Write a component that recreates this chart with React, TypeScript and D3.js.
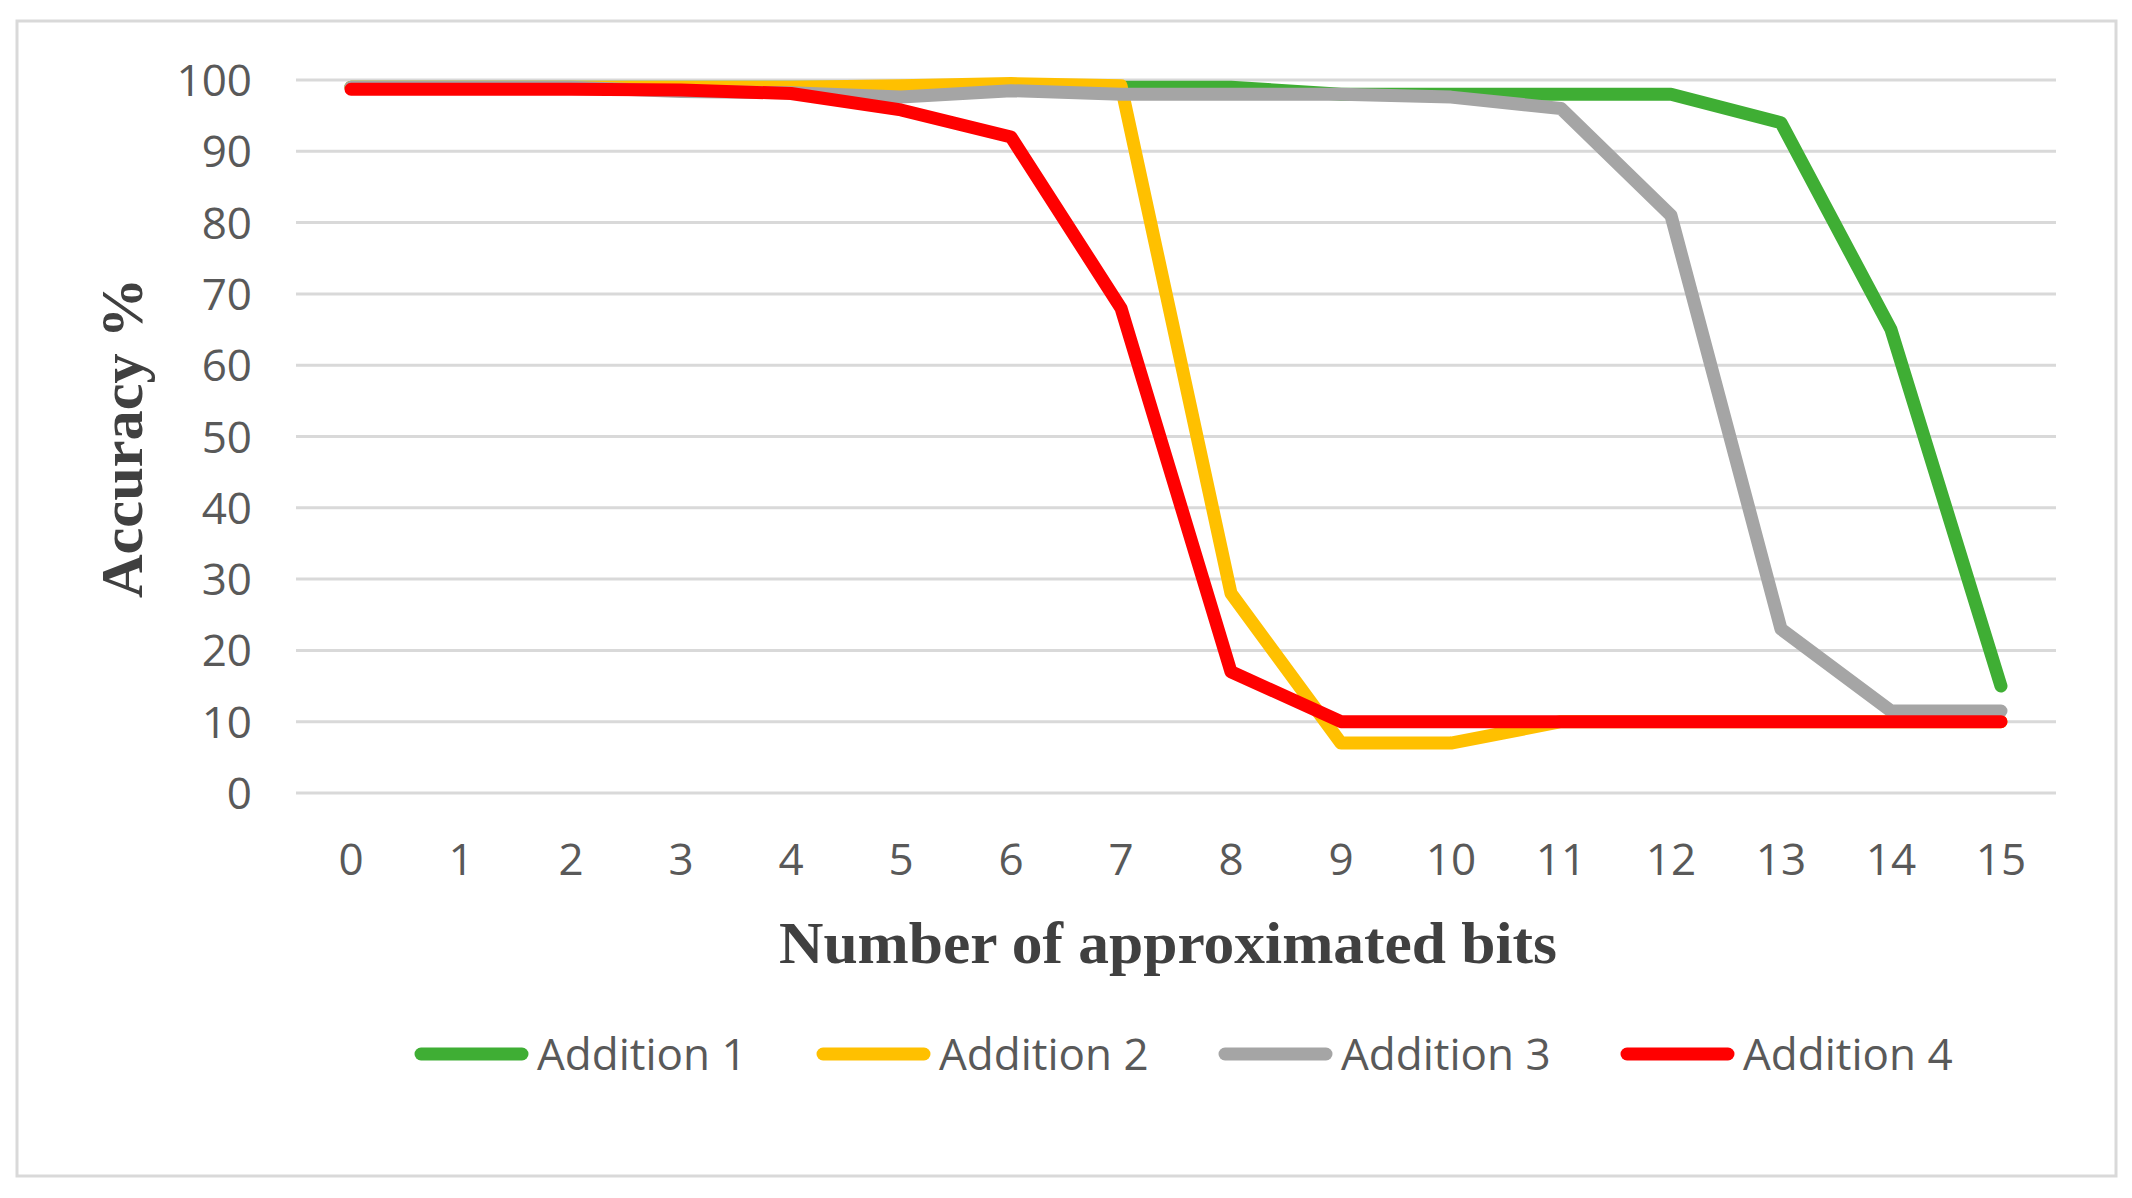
import React from "react";
import * as d3 from "d3";

// approximated bits on the x axis
const bits = [0, 1, 2, 3, 4, 5, 6, 7, 8, 9, 10, 11, 12, 13, 14, 15];

const seriesNames = ["Addition 1", "Addition 2", "Addition 3", "Addition 4"];
const seriesColors = ["#3fae34", "#ffc000", "#a5a5a5", "#ff0000"];

// accuracy %
const addition1 = [99, 99, 99, 99, 99, 99, 99, 99, 99, 98, 98, 98, 98, 94, 65, 15];
const addition2 = [99, 99, 99, 99, 99, 99.2, 99.5, 99.2, 28, 7, 7, 10, 10, 10, 10, 10];
const addition3 = [99, 99, 99, 98.4, 98.2, 97.6, 98.5, 98, 98, 98, 97.6, 96, 81, 23, 11.5, 11.5];
const addition4 = [98.7, 98.7, 98.7, 98.6, 98.1, 95.8, 92, 68, 17, 10, 10, 10, 10, 10, 10, 10];

const yTicks = [0, 10, 20, 30, 40, 50, 60, 70, 80, 90, 100];

const xTitle = "Number of approximated bits";
const yTitle = "Accuracy %";

const W = 2132;
const H = 1198;
const plot = { left: 296, right: 2056, top: 80, bottom: 793 };

const tickFont = "'Open Sans', 'Noto Sans', sans-serif";
const titleFont = "'Liberation Serif', 'DejaVu Serif', serif";

export default function App() {
    const x = d3.scaleBand<number>()
        .domain(bits)
        .range([plot.left, plot.right])
        .padding(0);
    const cx = (b: number) => x(b)! + x.bandwidth() / 2;

    const y = d3.scaleLinear()
        .domain([0, 100])
        .range([plot.bottom, plot.top]);

    const allSeries = [addition1, addition2, addition3, addition4];

    const line = d3.line<number>()
        .x((_, i) => cx(bits[i]))
        .y(d => y(d));

    const legendX = d3.scalePoint<string>()
        .domain(seriesNames)
        .range([421, 1627]);
    const legendY = 1054;

    return (
        <svg
            width={W}
            height={H}
            style={{ position: "absolute", left: 0, top: 0, background: "#fff" }}
        >
            <rect x={0} y={0} width={W} height={H} fill="#fff" />
            {/* chart border */}
            <rect x={17} y={21} width={2099} height={1155} fill="none" stroke="#d9d9d9" strokeWidth={3} />

            {/* grid */}
            {yTicks.map(t => (
                <line
                    key={"g" + t}
                    x1={plot.left}
                    x2={plot.right}
                    y1={y(t)}
                    y2={y(t)}
                    stroke="#d9d9d9"
                    strokeWidth={3}
                />
            ))}

            {/* y tick labels */}
            {yTicks.map(t => (
                <text
                    key={"y" + t}
                    x={252}
                    y={y(t) + 16}
                    textAnchor="end"
                    fontFamily={tickFont}
                    fontSize={44}
                    fill="#595959"
                >
                    {t}
                </text>
            ))}

            {/* x tick labels */}
            {bits.map(b => (
                <text
                    key={"x" + b}
                    x={cx(b)}
                    y={875}
                    textAnchor="middle"
                    fontFamily={tickFont}
                    fontSize={44}
                    fill="#595959"
                >
                    {b}
                </text>
            ))}

            {/* series */}
            {allSeries.map((s, i) => (
                <path
                    key={seriesNames[i]}
                    d={line(s)!}
                    fill="none"
                    stroke={seriesColors[i]}
                    strokeWidth={13}
                    strokeLinejoin="round"
                    strokeLinecap="round"
                />
            ))}

            {/* axis titles */}
            <text
                x={1168}
                y={963}
                textAnchor="middle"
                fontFamily={titleFont}
                fontWeight="bold"
                fontSize={60}
                textLength={778}
                lengthAdjust="spacingAndGlyphs"
                fill="#404040"
            >
                {xTitle}
            </text>
            <text
                transform={`translate(142,438) rotate(-90)`}
                textAnchor="middle"
                fontFamily={titleFont}
                fontWeight="bold"
                fontSize={60}
                textLength={320}
                lengthAdjust="spacingAndGlyphs"
                fill="#404040"
            >
                {yTitle}
            </text>

            {/* legend */}
            {seriesNames.map((name, i) => {
                const lx = legendX(name)!;
                return (
                    <g key={"l" + name}>
                        <line
                            x1={lx}
                            x2={lx + 101}
                            y1={legendY}
                            y2={legendY}
                            stroke={seriesColors[i]}
                            strokeWidth={13}
                            strokeLinecap="round"
                        />
                        <text
                            x={lx + 116}
                            y={legendY + 16}
                            fontFamily={tickFont}
                            fontSize={44}
                            fill="#595959"
                        >
                            {name}
                        </text>
                    </g>
                );
            })}
        </svg>
    );
}
